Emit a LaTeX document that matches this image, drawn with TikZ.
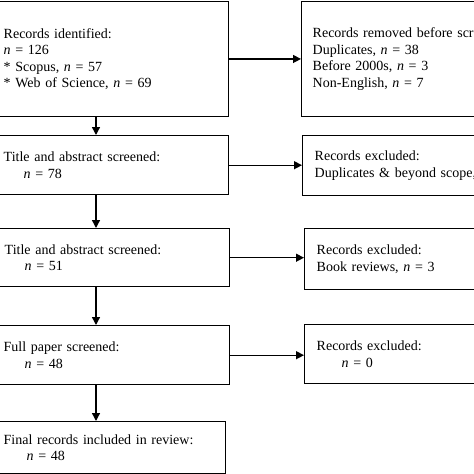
\documentclass[tikz,border=0pt]{standalone}
\usepackage{fontspec}
\setmainfont{Liberation Serif}
\usetikzlibrary{arrows.meta}
\newcommand{\nn}{\textit{n}~=~}
\begin{document}
\begin{tikzpicture}[x=1pt,y=-1pt,
  box/.style={draw=black, line width=1.4pt, anchor=north west, align=left,
    font=\fontsize{14pt}{16.5pt}\selectfont, inner ysep=0pt},
  lbox/.style={box, inner xsep=13pt, text width=212pt},
  rbox/.style={box, inner xsep=11pt, text width=320pt},
  arr/.style={line width=1.4pt, -{Triangle[length=8pt,width=8pt]}}]
\useasboundingbox (0,0) rectangle (474,474);
\clip (0,0) rectangle (474,474);
\node[lbox, minimum height=115.5pt] (L1) at (-10,0.5) {Records identified:\\\nn126\\\relax * Scopus, \nn57\\\relax * Web of Science, \nn69};
\node[lbox, minimum height=59pt] (L2) at (-10,135) {Title and abstract screened:\\\hspace*{20pt}\nn78};
\node[lbox, minimum height=58pt, text width=213pt] (L3) at (-10,228) {\hspace*{1pt}Title and abstract screened:\\\hspace*{21pt}\nn51};
\node[lbox, minimum height=59pt, text width=213pt] (L4) at (-10,325) {Full paper screened:\\\hspace*{21pt}\nn48};
\node[lbox, minimum height=52pt, text width=209pt] (L5) at (-10,421) {Final records included in review:\\\hspace*{23pt}\nn48};
\node[rbox, minimum height=115.5pt] (R1) at (301,0.5) {Records removed before screening:\\Duplicates, \nn38\\Before 2000s, \nn3\\Non-English, \nn7};
\node[rbox, minimum height=60pt, inner xsep=12pt] (R2) at (302,135) {Records excluded:\\Duplicates \& beyond scope, \nn27};
\node[rbox, minimum height=61pt, inner xsep=12pt] (R3) at (304,228) {Records excluded:\\Book reviews, \nn3};
\node[rbox, minimum height=59pt, inner xsep=12pt] (R4) at (304,324) {Records excluded:\\\hspace*{25pt}\nn0};
\coordinate (ax) at (96,0);
\draw[arr] (L1.south -| ax) -- (L2.north -| ax);
\draw[arr] (L2.south -| ax) -- (L3.north -| ax);
\draw[arr] (L3.south -| ax) -- (L4.north -| ax);
\draw[arr] (L4.south -| ax) -- (L5.north -| ax);
\draw[arr] (L1.east) -- (R1.west |- L1.east);
\draw[arr] (L2.east) -- (R2.west |- L2.east);
\draw[arr] (L3.east) -- (R3.west |- L3.east);
\draw[arr] (L4.east) -- (R4.west |- L4.east);
\end{tikzpicture}
\end{document}
